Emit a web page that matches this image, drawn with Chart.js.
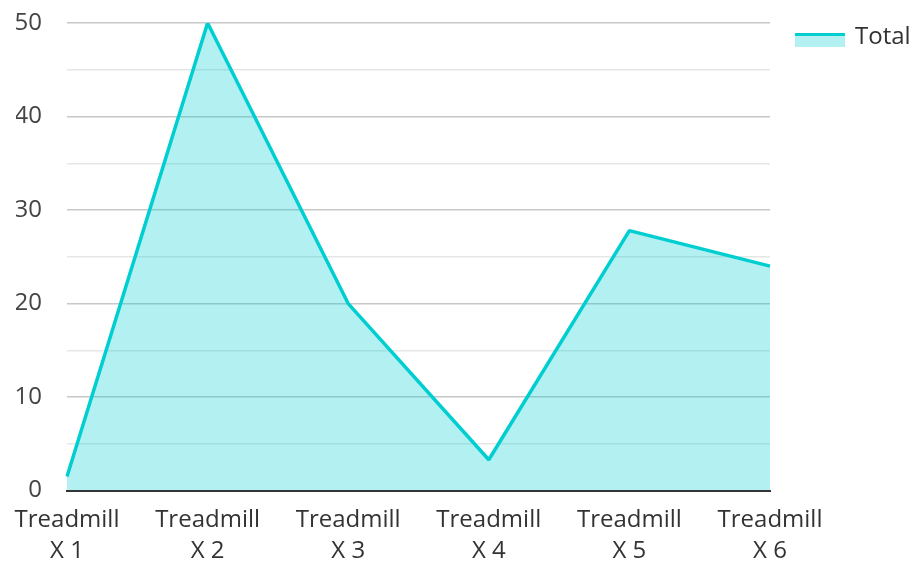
<!DOCTYPE html>
<html>
<head>
<meta charset="utf-8">
<script src="https://cdn.jsdelivr.net/npm/chart.js@4"></script>
<style>
  html, body { margin: 0; padding: 0; background: #fff; }
  #wrap { width: 912px; height: 562px; }
</style>
</head>
<body>
<div id="wrap"><canvas id="chart"></canvas></div>
<script>
// data
const categories = [['Treadmill', 'X 1'], ['Treadmill', 'X 2'], ['Treadmill', 'X 3'],
                    ['Treadmill', 'X 4'], ['Treadmill', 'X 5'], ['Treadmill', 'X 6']];
const totals = [1.5, 50, 20, 3.3, 27.8, 24];
const yTicks = [0, 10, 20, 30, 40, 50];
const seriesName = 'Total';

const LINE = '#00ced1';
const FILL = 'rgba(0, 206, 209, 0.3)';
const FONT = "'Open Sans', sans-serif";

// legend sits in the right padding: fill box with a thick line on top, then the name
const sideLegend = {
    id: 'side-legend',
    afterDraw(chart) {
        const { ctx, chartArea } = chart;
        const x = chartArea.right + 25;
        const y = chartArea.top + 10;
        ctx.save();
        ctx.fillStyle = FILL;
        ctx.fillRect(x, y, 50, 14);
        ctx.fillStyle = LINE;
        ctx.fillRect(x, y, 50, 3);
        ctx.fillStyle = '#333';
        ctx.font = `24px ${FONT}`;
        ctx.textBaseline = 'alphabetic';
        ctx.fillText(seriesName, x + 60, y + 11);
        ctx.restore();
    }
};

new Chart(document.getElementById('chart'), {
    type: 'line',
    data: {
        labels: categories,
        datasets: [{
            label: seriesName,
            data: totals,
            borderColor: LINE,
            backgroundColor: FILL,
            borderWidth: 3.5,
            borderJoinStyle: 'bevel',
            fill: 'origin',
            pointRadius: 0,
            tension: 0
        }]
    },
    options: {
        responsive: true,
        maintainAspectRatio: false,
        animation: false,
        layout: { padding: { top: 23, right: 142, left: 16, bottom: 0 } },
        plugins: {
            tooltip: { enabled: false },
            legend: { display: false }
        },
        scales: {
            x: {
                offset: false,
                grid: { display: false, drawTicks: false },
                border: { display: true, color: '#333', width: 2 },
                ticks: {
                    padding: 14,
                    maxRotation: 0,
                    autoSkip: false,
                    color: '#333',
                    font: { family: FONT, size: 24, lineHeight: 1.3 }
                },
                afterFit(scale) {
                    // let the outer labels hang past the plot edges
                    scale.paddingLeft = 0;
                    scale.paddingRight = 0;
                    scale.height -= 19;
                }
            },
            y: {
                min: 0,
                max: 50,
                border: { display: false },
                grid: {
                    drawTicks: false,
                    color: ctx => yTicks.includes(ctx.tick.value) ? '#c8c8c8' : '#e6e6e6',
                    lineWidth: 1.5
                },
                ticks: {
                    stepSize: 5,
                    padding: 25,
                    color: '#444',
                    font: { family: FONT, size: 24 },
                    callback: v => yTicks.includes(v) ? v : ''
                },
                afterFit(scale) {
                    scale.width = 51;
                    scale.paddingTop = 0;
                    scale.paddingBottom = 0;
                }
            }
        }
    },
    plugins: [sideLegend]
});
</script>
</body>
</html>
